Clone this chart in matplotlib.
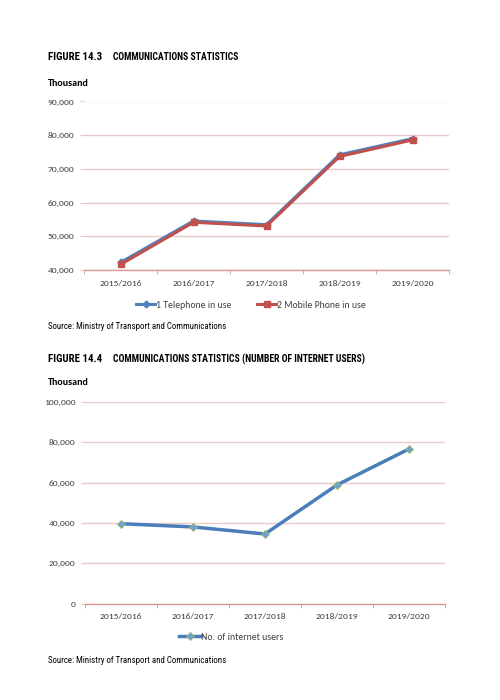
import matplotlib.pyplot as plt
import numpy as np
from matplotlib.ticker import FuncFormatter, FixedLocator

plt.rcParams['font.family'] = ['Roboto Condensed', 'Liberation Sans', 'DejaVu Sans']

years = ["2015/2016", "2016/2017", "2017/2018", "2018/2019", "2019/2020"]
telephone = [42300, 54600, 53500, 74200, 79000]
mobile = [41700, 54200, 53100, 73700, 78600]
internet = [39600, 38000, 34500, 58800, 76600]

top_ticks = [40000, 50000, 60000, 70000, 80000, 90000]
bottom_ticks = [0, 20000, 40000, 60000, 80000, 100000]

GRID = '#ecc9c9'
AXIS = '#d99694'
BLUE = '#4f81bd'
RED = '#c0504d'
TXT = '#404040'
tickfont = ['Carlito', 'DejaVu Sans']


def style_axes(ax, ticks):
    x = np.arange(len(years))
    ax.set_xlim(-0.5, len(years) - 0.5)
    ax.set_ylim(ticks[0], ticks[-1])
    ax.set_yticks(ticks)
    ax.yaxis.set_major_formatter(FuncFormatter(lambda v, p: f"{int(v):,}"))
    ax.yaxis.grid(True, color=GRID, linewidth=1.0)
    ax.set_axisbelow(True)
    ax.set_xticks(x)
    ax.set_xticklabels(years)
    ax.xaxis.set_minor_locator(FixedLocator(np.arange(-0.5, len(years), 1)))
    ax.tick_params(axis='x', which='major', length=0, pad=7)
    ax.tick_params(axis='x', which='minor', length=3, color=AXIS, direction='out')
    ax.tick_params(axis='y', length=3, color=GRID, pad=4)
    for lab in ax.get_xticklabels() + ax.get_yticklabels():
        lab.set_fontfamily(tickfont)
        lab.set_fontsize(6.8)
        lab.set_color(TXT)
    for s in ['top', 'right', 'left']:
        ax.spines[s].set_visible(False)
    ax.spines['bottom'].set_color(AXIS)
    ax.spines['bottom'].set_linewidth(1.0)


fig = plt.figure(figsize=(5, 7), dpi=100)

# Figure 14.3
fig.text(0.096, 0.918, "FIGURE 14.3", fontsize=7.8, fontweight='bold', va='center')
fig.text(0.226, 0.918, "COMMUNICATIONS STATISTICS", fontsize=6.9, fontweight='bold', va='center')
fig.text(0.096, 0.881, "Thousand", fontsize=7.2, fontweight='bold', va='center', family=tickfont)

ax1 = fig.add_axes([0.168, 0.614, 0.730, 0.241])
x = np.arange(len(years))
ax1.plot(x, telephone, color=BLUE, linewidth=2.2, marker='D', markersize=3.5, label='1 Telephone in use')
ax1.plot(x, mobile, color=RED, linewidth=2.2, marker='s', markersize=5, label='2 Mobile Phone in use')
style_axes(ax1, top_ticks)
leg1 = fig.legend(handles=ax1.get_lines(), loc='center', bbox_to_anchor=(0.502, 0.564), ncol=2,
                  frameon=False, prop={'family': tickfont, 'size': 7}, handlelength=2.0,
                  columnspacing=2.6, handletextpad=0.1)
for t in leg1.get_texts():
    t.set_color(TXT)
fig.text(0.096, 0.533, "Source: Ministry of Transport and Communications", fontsize=6.4, va='center')

# Figure 14.4
fig.text(0.096, 0.487, "FIGURE 14.4", fontsize=7.8, fontweight='bold', va='center')
fig.text(0.226, 0.487, "COMMUNICATIONS STATISTICS (NUMBER OF INTERNET USERS)", fontsize=7.0,
         fontweight='bold', va='center')
fig.text(0.096, 0.453, "Thousand", fontsize=7.2, fontweight='bold', va='center', family=tickfont)

ax2 = fig.add_axes([0.170, 0.1376, 0.720, 0.2885])
ax2.plot(x, internet, color='#4a7ebb', linewidth=2.5, marker='D', markersize=4,
         markerfacecolor='#6fa0d8', markeredgecolor='#9bbb59', markeredgewidth=0.6,
         label='No. of internet users')
style_axes(ax2, bottom_ticks)
leg2 = fig.legend(handles=ax2.get_lines(), loc='center', bbox_to_anchor=(0.462, 0.09), ncol=1,
                  frameon=False, prop={'family': tickfont, 'size': 7}, handlelength=2.2,
                  handletextpad=0.0)
for t in leg2.get_texts():
    t.set_color(TXT)
fig.text(0.096, 0.057, "Source: Ministry of Transport and Communications", fontsize=6.4, va='center')

fig.savefig('out.png', dpi=100)
